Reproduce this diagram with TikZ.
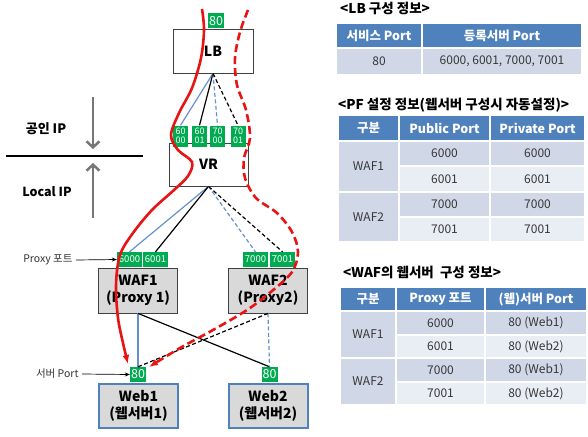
\documentclass[tikz,border=0pt]{standalone}
\usepackage{fontspec}
\setmainfont{Noto Sans CJK KR}
\usetikzlibrary{arrows.meta}
\definecolor{pgreen}{RGB}{0,170,80}
\definecolor{hblue}{RGB}{79,129,189}
\definecolor{rdark}{RGB}{208,216,232}
\definecolor{rlight}{RGB}{233,237,244}
\definecolor{boxgray}{RGB}{217,217,217}
\definecolor{lblue}{RGB}{100,145,205}
\definecolor{agray}{RGB}{118,118,118}
\definecolor{rred}{RGB}{232,20,20}
\definecolor{ttext}{RGB}{55,55,55}
\newcommand\tc[6]{\node[tcell, fill=#5, minimum width={#3-#1}, minimum height={#4-#2}] at ({(#1+#3)/2},{(#2+#4)/2}) {#6};}
\newcommand\hd[1]{\textcolor{white}{\fontsize{12.5}{14}\selectfont\bfseries #1}}
\begin{document}
\begin{tikzpicture}[x=1pt,y=-1pt,
  port/.style={fill=pgreen, text=white, inner sep=0pt, font=\fontsize{9.5}{9.5}\selectfont},
  vport/.style={port, minimum width=15pt, minimum height=21pt, align=center, font=\fontsize{9}{9}\selectfont},
  wport/.style={port, minimum width=25pt, minimum height=15pt},
  bport/.style={port, minimum width=16pt, minimum height=15pt, font=\fontsize{12.5}{12.5}\selectfont},
  plainbox/.style={draw=black!75, line width=0.8pt, align=center, inner sep=0pt, font=\fontsize{14}{17}\selectfont\bfseries},
  wafbox/.style={plainbox, fill=boxgray, minimum width=79pt, minimum height=45pt},
  webbox/.style={draw=hblue, line width=2pt, fill=boxgray, align=center, inner sep=0pt, minimum width=79pt, minimum height=44pt, font=\fontsize{14}{17}\selectfont\bfseries},
  bl/.style={lblue, line width=1.2pt},
  bk/.style={black, line width=1.2pt},
  bld/.style={bl, dash pattern=on 4pt off 2.5pt},
  bkd/.style={bk, dash pattern=on 4pt off 2.5pt},
  garrow/.style={agray, line width=2.5pt, -{Straight Barb[length=6pt,width=13pt]}},
  larrow/.style={black, line width=0.7pt, -{Stealth[length=5pt,width=4pt]}},
  redline/.style={rred, line width=2.6pt, -{Latex[length=9pt,width=7pt]}},
  tcell/.style={draw=white, line width=1.5pt, inner sep=0pt, text=ttext, font=\fontsize{12}{14}\selectfont},
  ttl/.style={anchor=west, inner sep=0pt, font=\fontsize{13.5}{15}\selectfont\bfseries}
]
\useasboundingbox (0,0) rectangle (588,436);
\fill[white] (0,0) rectangle (588,436);

% ---- left diagram: boxes
\node[plainbox, minimum width=80pt, minimum height=44pt] (LB) at (213,51) {LB};
\node[bport] (p80) at (216,21) {80};
\node[plainbox, minimum width=79pt, minimum height=43pt] (VR) at (208.5,164.5) {\raisebox{-4pt}{VR}};
\node[vport] (v1) at (180.5,136) {60\\00};
\node[vport] (v2) at (199.5,136) {60\\01};
\node[vport] (v3) at (217.5,136) {70\\00};
\node[vport] (v4) at (238,136) {70\\01};

\node[wafbox] (WAF1) at (138,290.5) {WAF1\\(Proxy 1)};
\node[wafbox] (WAF2) at (268,290.5) {WAF2\\(Proxy2)};
\node[wport] (w6000) at (129.5,259.5) {6000};
\node[wport] (w6001) at (155.5,259.5) {6001};
\node[wport] (w7000) at (255.5,259.5) {7000};
\node[wport] (w7001) at (282.5,259.5) {7001};

\node[webbox] (Web1) at (138.5,405.5) {Web1\\(웹서버1)};
\node[webbox] (Web2) at (268,405.5) {Web2\\(웹서버2)};
\node[bport] (s1) at (138,374.5) {80};
\node[bport] (s2) at (269.5,374.5) {80};

% ---- connectors
\draw[bl]  (LB.south) -- (v1.north);
\draw[bk]  (LB.south) -- (v2.north);
\draw[bld] (LB.south) -- (v3.north);
\draw[bkd] (LB.south) -- (v4.north);
\draw[bl]  (VR.south) -- (w6000.north);
\draw[bk]  (VR.south) -- (w6001.north);
\draw[bld] (VR.south) -- (w7000.north);
\draw[bkd] (VR.south) -- (w7001.north);
\draw[bl]  (WAF1.south) -- (s1.north);
\draw[bk]  (WAF1.south) -- (s2.north);
\draw[bld] (WAF2.south) -- (s2.north);
\draw[bkd] (WAF2.south) -- (s1.north);

% ---- labels on the left
\coordinate (dl) at (6,156);
\coordinate (dr) at (143,156);
\draw[black, line width=1.4pt] (dl) -- (dr);
\coordinate (a1s) at (93,97);
\coordinate (a1e) at (93,149);
\coordinate (a2s) at (93,218);
\coordinate (a2e) at (93,163);
\draw[garrow] (a1s) -- (a1e);
\draw[garrow] (a2s) -- (a2e);
\node[font=\fontsize{13}{15}\selectfont\bfseries] (pubip) at (46,129) {공인 IP};
\node[font=\fontsize{12.5}{15}\selectfont\bfseries] (locip) at (47,192) {Local IP};
\node[font=\fontsize{10.5}{12}\selectfont, anchor=east, text=black!80] (lproxy) at (76,260) {Proxy 포트};
\node[font=\fontsize{10.5}{12}\selectfont, anchor=east, text=black!80] (lserver) at (82,374) {서버 Port};
\draw[larrow] (lproxy.east) -- (w6000.west);
\draw[larrow] (lserver.east) -- (s1.west);

% ---- red flows
\draw[redline] plot[smooth, tension=0.55] coordinates {(202,9) (204,30) (201,58) (192,88) (179,113) (171,135) (178,150) (192,162) (188,176) (174,190) (152,210) (133,233) (120,255) (116,285) (118,318) (123,343) (128,364)};
\draw[redline, dash pattern=on 8pt off 4pt] plot[smooth, tension=0.55] coordinates {(248,10) (240,32) (235,58) (237,85) (246,110) (250,138) (244,158) (245,178) (256,198) (277,213) (292,232) (298,252) (292,272) (272,291) (247,310) (213,330) (180,348) (149,367)};

% ---- tables
\node[ttl] (t1) at (340,8) {<LB 구성 정보>};
\tc{336}{23}{422}{48}{hblue}{\hd{서비스 Port}}
\tc{422}{23}{582}{48}{hblue}{\hd{등록서버 Port}}
\tc{336}{48}{422}{75}{rdark}{80}
\tc{422}{48}{582}{75}{rdark}{6000, 6001, 7000, 7001}

\node[ttl] (t2) at (338,105) {<PF 설정 정보(웹서버 구성시 자동설정)>};
\tc{338}{115}{399}{141}{hblue}{\hd{구분}}
\tc{399}{115}{490}{141}{hblue}{\hd{Public Port}}
\tc{490}{115}{585}{141}{hblue}{\hd{Private Port}}
\tc{338}{141}{399}{192}{rdark}{WAF1}
\tc{338}{192}{399}{242}{rdark}{WAF2}
\tc{399}{141}{490}{166}{rdark}{6000}
\tc{490}{141}{585}{166}{rdark}{6000}
\tc{399}{166}{490}{192}{rlight}{6001}
\tc{490}{166}{585}{192}{rlight}{6001}
\tc{399}{192}{490}{217}{rdark}{7000}
\tc{490}{192}{585}{217}{rdark}{7000}
\tc{399}{217}{490}{242}{rlight}{7001}
\tc{490}{217}{585}{242}{rlight}{7001}

\node[ttl] (t3) at (343,272) {<WAF의 웹서버~ 구성 정보>};
\tc{340}{287}{396}{311}{hblue}{\hd{구분}}
\tc{396}{287}{485}{311}{hblue}{\hd{Proxy 포트}}
\tc{485}{287}{587}{311}{hblue}{\hd{(웹)서버 Port}}
\tc{340}{311}{396}{358}{rdark}{WAF1}
\tc{340}{358}{396}{405}{rdark}{WAF2}
\tc{396}{311}{485}{335}{rdark}{6000}
\tc{485}{311}{587}{335}{rdark}{80 (Web1)}
\tc{396}{335}{485}{358}{rlight}{6001}
\tc{485}{335}{587}{358}{rlight}{80 (Web2)}
\tc{396}{358}{485}{382}{rdark}{7000}
\tc{485}{358}{587}{382}{rdark}{80 (Web1)}
\tc{396}{382}{485}{405}{rlight}{7001}
\tc{485}{382}{587}{405}{rlight}{80 (Web2)}
\end{tikzpicture}
\end{document}
